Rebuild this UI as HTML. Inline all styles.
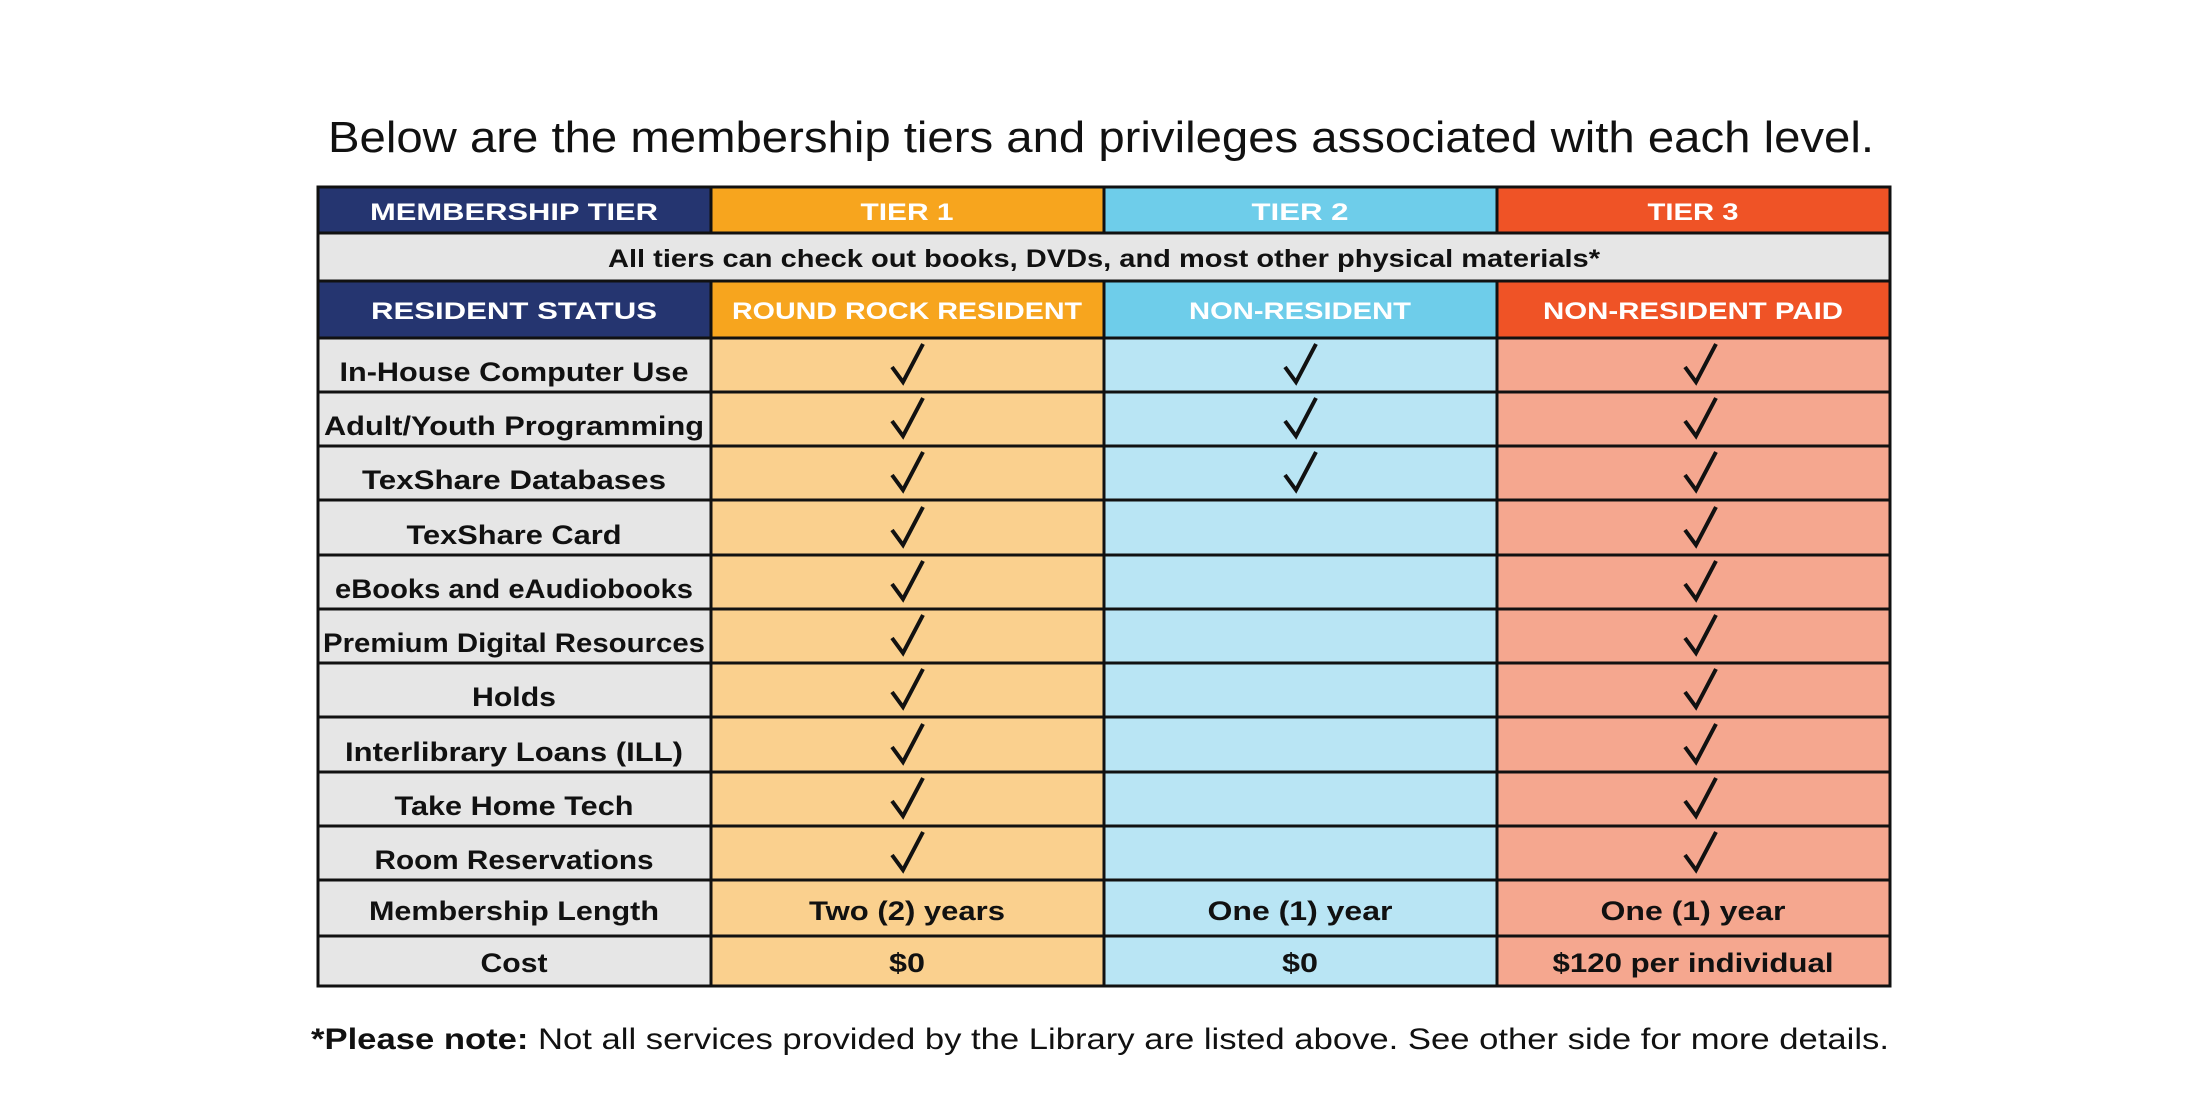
<!DOCTYPE html>
<html><head><meta charset="utf-8"><style>
html,body{margin:0;padding:0;background:#fff;}
svg{display:block;}
text{font-family:"Liberation Sans",sans-serif;}
.h{font-weight:bold;fill:#fff;font-size:24px;}
.l{font-weight:bold;fill:#111;font-size:27px;}
</style></head><body>
<svg width="2200" height="1100" viewBox="0 0 2200 1100" xmlns="http://www.w3.org/2000/svg">
<rect width="2200" height="1100" fill="#fff"/>
<text x="1101" y="152" text-anchor="middle" font-size="44" fill="#111" textLength="1546" lengthAdjust="spacingAndGlyphs">Below are the membership tiers and privileges associated with each level.</text>

<rect x="318" y="187" width="393" height="46" fill="#253570"/>
<rect x="711" y="187" width="393" height="46" fill="#F7A51E"/>
<rect x="1104" y="187" width="393" height="46" fill="#6ECDEA"/>
<rect x="1497" y="187" width="393" height="46" fill="#EF5326"/>
<rect x="318" y="233" width="1572" height="48" fill="#E6E6E6"/>
<rect x="318" y="281" width="393" height="57" fill="#253570"/>
<rect x="711" y="281" width="393" height="57" fill="#F7A51E"/>
<rect x="1104" y="281" width="393" height="57" fill="#6ECDEA"/>
<rect x="1497" y="281" width="393" height="57" fill="#EF5326"/>
<rect x="318" y="338" width="393" height="648" fill="#E6E6E6"/>
<rect x="711" y="338" width="393" height="648" fill="#FAD08E"/>
<rect x="1104" y="338" width="393" height="648" fill="#B9E5F4"/>
<rect x="1497" y="338" width="393" height="648" fill="#F5A78F"/>

<g stroke="#111" stroke-width="3">
<line x1="316.5" y1="187" x2="1891.5" y2="187"/>
<line x1="316.5" y1="233" x2="1891.5" y2="233"/>
<line x1="316.5" y1="281" x2="1891.5" y2="281"/>
<line x1="316.5" y1="338" x2="1891.5" y2="338"/>
<line x1="316.5" y1="392" x2="1891.5" y2="392"/>
<line x1="316.5" y1="446" x2="1891.5" y2="446"/>
<line x1="316.5" y1="500" x2="1891.5" y2="500"/>
<line x1="316.5" y1="555" x2="1891.5" y2="555"/>
<line x1="316.5" y1="609" x2="1891.5" y2="609"/>
<line x1="316.5" y1="663" x2="1891.5" y2="663"/>
<line x1="316.5" y1="717" x2="1891.5" y2="717"/>
<line x1="316.5" y1="772" x2="1891.5" y2="772"/>
<line x1="316.5" y1="826" x2="1891.5" y2="826"/>
<line x1="316.5" y1="880" x2="1891.5" y2="880"/>
<line x1="316.5" y1="936" x2="1891.5" y2="936"/>
<line x1="316.5" y1="986" x2="1891.5" y2="986"/>
<line x1="318" y1="187" x2="318" y2="986"/>
<line x1="1890" y1="187" x2="1890" y2="986"/>
<line x1="711" y1="187" x2="711" y2="233"/>
<line x1="1104" y1="187" x2="1104" y2="233"/>
<line x1="1497" y1="187" x2="1497" y2="233"/>
<line x1="711" y1="281" x2="711" y2="986"/>
<line x1="1104" y1="281" x2="1104" y2="986"/>
<line x1="1497" y1="281" x2="1497" y2="986"/>
</g>

<text class="h" x="514" y="220" text-anchor="middle" textLength="288" lengthAdjust="spacingAndGlyphs">MEMBERSHIP TIER</text>
<text class="h" x="907" y="220" text-anchor="middle" textLength="93" lengthAdjust="spacingAndGlyphs">TIER 1</text>
<text class="h" x="1300" y="220" text-anchor="middle" textLength="97" lengthAdjust="spacingAndGlyphs">TIER 2</text>
<text class="h" x="1693" y="220" text-anchor="middle" textLength="91" lengthAdjust="spacingAndGlyphs">TIER 3</text>
<text x="1104" y="267" text-anchor="middle" font-size="25" font-weight="bold" fill="#111" textLength="992" lengthAdjust="spacingAndGlyphs">All tiers can check out books, DVDs, and most other physical materials*</text>
<text class="h" x="514" y="319" text-anchor="middle" textLength="286" lengthAdjust="spacingAndGlyphs">RESIDENT STATUS</text>
<text class="h" x="907" y="319" text-anchor="middle" textLength="350" lengthAdjust="spacingAndGlyphs">ROUND ROCK RESIDENT</text>
<text class="h" x="1300" y="319" text-anchor="middle" textLength="222" lengthAdjust="spacingAndGlyphs">NON-RESIDENT</text>
<text class="h" x="1693" y="319" text-anchor="middle" textLength="300" lengthAdjust="spacingAndGlyphs">NON-RESIDENT PAID</text>

<text class="l" x="514" y="381" text-anchor="middle" textLength="349" lengthAdjust="spacingAndGlyphs">In-House Computer Use</text>
<text class="l" x="514" y="435" text-anchor="middle" textLength="380" lengthAdjust="spacingAndGlyphs">Adult/Youth Programming</text>
<text class="l" x="514" y="489" text-anchor="middle" textLength="304" lengthAdjust="spacingAndGlyphs">TexShare Databases</text>
<text class="l" x="514" y="544" text-anchor="middle" textLength="215" lengthAdjust="spacingAndGlyphs">TexShare Card</text>
<text class="l" x="514" y="598" text-anchor="middle" textLength="358" lengthAdjust="spacingAndGlyphs">eBooks and eAudiobooks</text>
<text class="l" x="514" y="652" text-anchor="middle" textLength="382" lengthAdjust="spacingAndGlyphs">Premium Digital Resources</text>
<text class="l" x="514" y="706" text-anchor="middle" textLength="84" lengthAdjust="spacingAndGlyphs">Holds</text>
<text class="l" x="514" y="761" text-anchor="middle" textLength="338" lengthAdjust="spacingAndGlyphs">Interlibrary Loans (ILL)</text>
<text class="l" x="514" y="815" text-anchor="middle" textLength="239" lengthAdjust="spacingAndGlyphs">Take Home Tech</text>
<text class="l" x="514" y="869" text-anchor="middle" textLength="279" lengthAdjust="spacingAndGlyphs">Room Reservations</text>
<text class="l" x="514" y="920" text-anchor="middle" textLength="290" lengthAdjust="spacingAndGlyphs">Membership Length</text>
<text class="l" x="514" y="972" text-anchor="middle" textLength="67" lengthAdjust="spacingAndGlyphs">Cost</text>
<text class="l" x="907" y="920" text-anchor="middle" textLength="196" lengthAdjust="spacingAndGlyphs">Two (2) years</text>
<text class="l" x="1300" y="920" text-anchor="middle" textLength="185" lengthAdjust="spacingAndGlyphs">One (1) year</text>
<text class="l" x="1693" y="920" text-anchor="middle" textLength="185" lengthAdjust="spacingAndGlyphs">One (1) year</text>
<text class="l" x="907" y="972" text-anchor="middle" textLength="36" lengthAdjust="spacingAndGlyphs">$0</text>
<text class="l" x="1300" y="972" text-anchor="middle" textLength="36" lengthAdjust="spacingAndGlyphs">$0</text>
<text class="l" x="1693" y="972" text-anchor="middle" textLength="281" lengthAdjust="spacingAndGlyphs">$120 per individual</text>

<defs><path id="ck" d="M-15,2 L-4,17 L16,-21" fill="none" stroke="#111" stroke-width="4" stroke-linejoin="miter"/></defs>
<g>
<use href="#ck" x="907" y="365"/><use href="#ck" x="907" y="419"/><use href="#ck" x="907" y="473"/><use href="#ck" x="907" y="528"/><use href="#ck" x="907" y="582"/><use href="#ck" x="907" y="636"/><use href="#ck" x="907" y="690"/><use href="#ck" x="907" y="745"/><use href="#ck" x="907" y="799"/><use href="#ck" x="907" y="853"/>
<use href="#ck" x="1300" y="365"/><use href="#ck" x="1300" y="419"/><use href="#ck" x="1300" y="473"/>
<use href="#ck" x="1700" y="365"/><use href="#ck" x="1700" y="419"/><use href="#ck" x="1700" y="473"/><use href="#ck" x="1700" y="528"/><use href="#ck" x="1700" y="582"/><use href="#ck" x="1700" y="636"/><use href="#ck" x="1700" y="690"/><use href="#ck" x="1700" y="745"/><use href="#ck" x="1700" y="799"/><use href="#ck" x="1700" y="853"/>
</g>

<text x="311" y="1049" font-size="30" fill="#111" textLength="1578" lengthAdjust="spacingAndGlyphs"><tspan font-weight="bold">*Please note:</tspan> Not all services provided by the Library are listed above. See other side for more details.</text>
</svg>
</body></html>
